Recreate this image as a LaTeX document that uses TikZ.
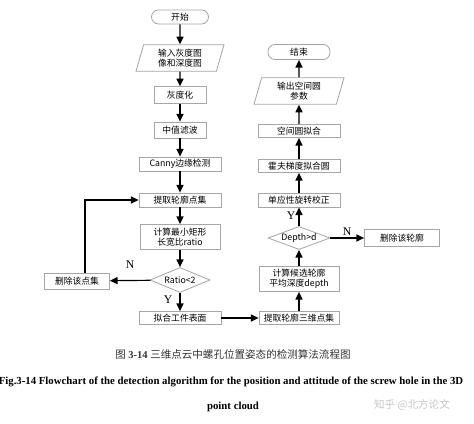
\documentclass[tikz,border=0pt]{standalone}
\usepackage{fontspec}
\setmainfont{Liberation Serif}
\newfontfamily\cjk{Noto Sans CJK SC}
\usetikzlibrary{shapes.geometric,arrows.meta}

\begin{document}
\begin{tikzpicture}[x=0.03cm, y=-0.03cm,
    box/.style={draw=gray!70, line width=0.7pt, fill=white, font=\cjk\fontsize{7.5}{9}\selectfont, align=center, inner sep=1pt, minimum height=0.42cm},
    term/.style={box, rounded corners=0.21cm},
    io/.style={box, trapezium, trapezium left angle=70, trapezium right angle=110, trapezium stretches body, minimum height=0.8cm},
    decide/.style={box, diamond, aspect=2.5, inner sep=0pt},
    arr/.style={-{Triangle[length=6.5pt,width=6pt]}, line width=1pt},
    yn/.style={font=\fontsize{10}{10}\selectfont}]
    \useasboundingbox (0,0) rectangle (474,424);
    \node[term, minimum width=1.71cm] (start) at (180,17) {开始};
    \node[io, minimum width=2.64cm] (input) at (180,58) {输入灰度图\\像和深度图};
    \node[box, minimum width=1.56cm, minimum height=0.5cm] (gray) at (180,95) {灰度化};
    \node[box, minimum width=1.56cm, minimum height=0.48cm] (median) at (180,130) {中值滤波};
    \node[box, minimum width=2.46cm] (canny) at (180,164) {Canny边缘检测};
    \node[box, minimum width=2.46cm] (contour) at (180,200) {提取轮廓点集};
    \node[box, minimum width=2.4cm, minimum height=0.75cm] (rect) at (180,237) {计算最小矩形\\长宽比ratio};
    \node[decide, minimum width=1.8cm, minimum height=0.75cm] (ratio) at (180,280) {Ratio<2};
    \node[box, minimum width=2.46cm, minimum height=0.39cm] (surface) at (180,318) {拟合工件表面};
    \node[box, minimum width=1.95cm, minimum height=0.48cm] (del1) at (77,281) {删除该点集};
    \node[term, minimum width=1.86cm, minimum height=0.45cm] (end) at (299,52) {结束};
    \node[io, minimum width=2.7cm] (output) at (299,91) {输出空间圆\\参数};
    \node[box, minimum width=2.46cm, minimum height=0.39cm] (circfit) at (299,131) {空间圆拟合};
    \node[box, minimum width=2.46cm, minimum height=0.39cm] (hough) at (299,166) {霍夫梯度拟合圆};
    \node[box, minimum width=2.46cm] (homo) at (299,200) {单应性旋转校正};
    \node[decide, minimum width=1.86cm, minimum height=0.69cm] (depthd) at (299,238) {Depth>d};
    \node[box, minimum width=2.25cm, minimum height=0.5cm] (del2) at (402,238) {删除该轮廓};
    \node[box, minimum width=2.4cm, minimum height=0.75cm] (avg) at (299,279) {计算候选轮廓\\平均深度depth};
    \node[box, minimum width=2.4cm, minimum height=0.39cm] (pts3d) at (299,318) {提取轮廓三维点集};
    \draw[arr] (start) -- (input);
    \draw[arr] (input) -- (gray);
    \draw[arr] (gray) -- (median);
    \draw[arr] (median) -- (canny);
    \draw[arr] (canny) -- (contour);
    \draw[arr] (contour) -- (rect);
    \draw[arr] (rect) -- (ratio);
    \draw[arr] (ratio) -- (surface);
    \draw[arr] (ratio) -- (del1);
    \draw[arr] ([xshift=0.24cm]del1.north) |- (contour.west);
    \draw[arr] (surface) -- (pts3d);
    \draw[arr] (pts3d) -- (avg);
    \draw[arr] (avg) -- (depthd);
    \draw[arr] (depthd) -- (homo);
    \draw[arr] (depthd) -- (del2);
    \draw[arr] (homo) -- (hough);
    \draw[arr] (hough) -- (circfit);
    \draw[arr] (circfit) -- (output);
    \draw[arr] (output) -- (end);
    \node[yn] (n1) at (130,265) {N};
    \node[yn] (y1) at (168,300) {Y};
    \node[yn] (y2) at (291,216) {Y};
    \node[yn] (n2) at (347,232) {N};
    \node[text=black!80, font=\fontsize{9}{11}\selectfont] (cap1) at (233,354) {{\cjk 图 }\textbf{3-14} {\cjk 三维点云中螺孔位置姿态的检测算法流程图}};
    \node[font=\bfseries\fontsize{9.2}{11}\selectfont] (cap2) at (231,382) {Fig.3-14 Flowchart of the detection algorithm for the position and attitude of the screw hole in the 3D};
    \node[font=\bfseries\fontsize{9.2}{11}\selectfont] (cap3) at (233,407) {point cloud};
    \node[text=gray!45, font=\cjk\fontsize{9}{11}\selectfont] (mark) at (412,405) {知乎 @北方论文};
\end{tikzpicture}
\end{document}
